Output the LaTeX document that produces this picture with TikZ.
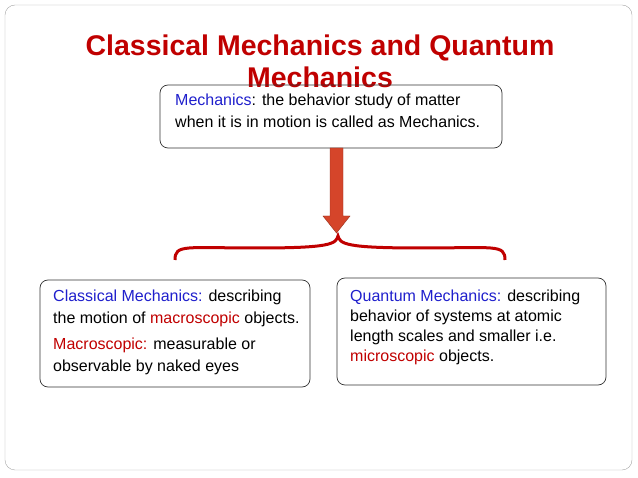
\documentclass[tikz,border=0pt]{standalone}
\usepackage{fontspec}
\setmainfont{Liberation Sans}
\begin{document}
\begin{tikzpicture}[x=1pt,y=-1pt,
  box/.style={draw=black!80,rounded corners=8pt,line width=0.7pt},
  txt/.style={anchor=north west,align=left,font=\fontsize{16}{22}\selectfont,inner sep=0pt}]
\definecolor{tred}{HTML}{C00000}
\definecolor{tblue}{HTML}{1F1FCC}
\definecolor{arr}{HTML}{D5452A}
\useasboundingbox (0,0) rectangle (638,478);
\draw[black!35,rounded corners=10pt] (5,5) rectangle (632,470);
\node[font=\fontsize{28.5}{32}\selectfont\bfseries,text=tred,align=center] (title) at (320,61) {Classical Mechanics and Quantum\\Mechanics};
\node[box,minimum width=342pt,minimum height=63pt] (top) at (331,116.5) {};
\node[txt] (tt) at (175,94) {\textcolor{tblue}{Mechanics}: the behavior study of matter\\when it is in motion is called as Mechanics.};
\coordinate (tip) at (336.5,233);
\draw[arr!70!black,fill=arr] (330,148) -- (330,216) -- (323,216) -- (tip) -- (350,216) -- (343,216) -- (343,148) -- cycle;
\draw[tred,line width=3pt] (175,260) .. controls (175,244) and (185,248) .. (258,248) .. controls (330,248) and (336,244) .. (338,236) .. controls (340,244) and (346,248) .. (420,248) .. controls (495,248) and (505,244) .. (505,260);
\node[box,minimum width=270pt,minimum height=107pt] (left) at (175,333.5) {};
\node[txt] (lt) at (53,290) {\textcolor{tblue}{Classical Mechanics:} describing\\the motion of \textcolor{tred}{macroscopic} objects.\\[4pt]\textcolor{tred}{Macroscopic:} measurable or\\observable by naked eyes};
\node[box,minimum width=269pt,minimum height=107pt] (right) at (471.5,331.5) {};
\node[txt,font=\fontsize{16}{20}\selectfont] (rt) at (350,290) {\textcolor{tblue}{Quantum Mechanics:} describing\\behavior of systems at atomic\\length scales and smaller i.e.\\\textcolor{tred}{microscopic} objects.};
\end{tikzpicture}
\end{document}
